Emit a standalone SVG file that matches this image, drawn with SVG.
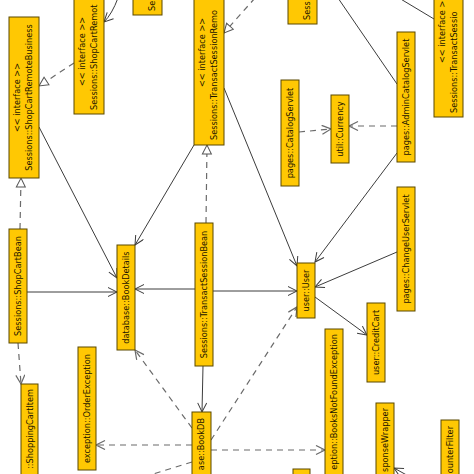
<svg xmlns="http://www.w3.org/2000/svg" width="474" height="474" viewBox="0 0 474 474">
<style>
.box{fill:#FFC803;stroke:#5a4800;stroke-width:1}
.t{font-family:"DejaVu Sans",Verdana,sans-serif;font-size:8.2px;fill:#1a1400}
.s{fill:none;stroke:#3c3c3c;stroke-width:1}
.d{fill:none;stroke:#6a6a6a;stroke-width:1.2;stroke-dasharray:6,5}
</style>
<defs>
<marker id="ao" markerUnits="userSpaceOnUse" markerWidth="12" markerHeight="12" refX="10" refY="5" orient="auto">
<path d="M1,0.5 L10,5 L1,9.5" fill="none" stroke="#3c3c3c" stroke-width="1"/>
</marker>
<marker id="ad" markerUnits="userSpaceOnUse" markerWidth="12" markerHeight="12" refX="10" refY="5" orient="auto">
<path d="M1,0.5 L10,5 L1,9.5" fill="none" stroke="#6a6a6a" stroke-width="1.2"/>
</marker>
<marker id="tri" markerUnits="userSpaceOnUse" markerWidth="14" markerHeight="14" refX="10" refY="5.5" orient="auto">
<path d="M1,1 L10,5.5 L1,10 Z" fill="#fff" stroke="#555" stroke-width="1"/>
</marker>
</defs>
<rect width="474" height="474" fill="#fff"/>
<g id="connectors">
<path class="s" d="M118,-2 Q112,14 104,22" marker-end="url(#ao)"/>
<path class="d" d="M74,63 L39,86" marker-end="url(#tri)"/>
<path class="s" d="M39,127 L117,278" marker-end="url(#ao)"/>
<path class="d" d="M20,229 L21,178" marker-end="url(#tri)"/>
<path class="s" d="M27,292 L117,292" marker-end="url(#ao)"/>
<path class="d" d="M18,343 L21,384" marker-end="url(#ad)"/>
<path class="s" d="M194,145 L135,245" marker-end="url(#ao)"/>
<path class="s" d="M224,88 L297,266" marker-end="url(#ao)"/>
<path class="d" d="M206,223 L207,145" marker-end="url(#tri)"/>
<path class="d" d="M255,-2 L224,33" marker-end="url(#tri)"/>
<path class="s" d="M195,289 L135,289" marker-end="url(#ao)"/>
<path class="s" d="M213,291 L297,291" marker-end="url(#ao)"/>
<path class="d" d="M192,428 L135,350" marker-end="url(#ad)"/>
<path class="s" d="M203,366 L202,412" marker-end="url(#ao)"/>
<path class="d" d="M211,440 L297,307" marker-end="url(#ad)"/>
<path class="d" d="M192,445 L96,445" marker-end="url(#ad)"/>
<path class="d" d="M211,450 L325,450" marker-end="url(#ad)"/>
<path class="d" d="M192,462 L140,478"/>
<path class="d" d="M397,126 L349,126" marker-end="url(#ad)"/>
<path class="d" d="M299,132 L331,129" marker-end="url(#ad)"/>
<path class="s" d="M397,153 L315,262" marker-end="url(#ao)"/>
<path class="s" d="M338,-2 L397,84"/>
<path class="s" d="M399,-2 L434,19"/>
<path class="s" d="M397,252 L315,287" marker-end="url(#ao)"/>
<path class="s" d="M315,297 L367,335" marker-end="url(#ao)"/>
<path class="s" d="M412,478 L394,468" marker-end="url(#ao)"/>
</g>
<g id="ShopCartRemoteBusiness">
<rect class="box" x="9" y="17" width="30" height="161"/>
<text class="t" text-anchor="middle" transform="translate(19.5,97.5) rotate(-90)">&lt;&lt; interface &gt;&gt;</text>
<text class="t" text-anchor="middle" transform="translate(32,97.5) rotate(-90)">Sessions::ShopCartRemoteBusiness</text>
</g>
<g id="ShopCartRemote">
<rect class="box" x="74" y="-20" width="30" height="134"/>
<text class="t" transform="translate(84.5,86) rotate(-90)">&lt;&lt; interface &gt;&gt;</text>
<text class="t" transform="translate(97,110) rotate(-90)">Sessions::ShopCartRemot</text>
</g>
<g id="TopNode1">
<rect class="box" x="133" y="-60" width="29" height="75"/>
<text class="t" transform="translate(154.5,11) rotate(-90)">Se</text>
</g>
<g id="TransactSessionRemoteBusiness">
<rect class="box" x="194" y="-50" width="30" height="195"/>
<text class="t" transform="translate(204.5,87) rotate(-90)">&lt;&lt; interface &gt;&gt;</text>
<text class="t" transform="translate(217,140) rotate(-90)">Sessions::TransactSessionRemo</text>
</g>
<g id="TopNode2">
<rect class="box" x="288" y="-60" width="29" height="84"/>
<text class="t" transform="translate(310,20) rotate(-90)">Sess</text>
</g>
<g id="CatalogServlet">
<rect class="box" x="281" y="80" width="18" height="106"/>
<text class="t" text-anchor="middle" transform="translate(293,133) rotate(-90)">pages::CatalogServlet</text>
</g>
<g id="Currency">
<rect class="box" x="331" y="95" width="18" height="68"/>
<text class="t" text-anchor="middle" transform="translate(343,129) rotate(-90)">util::Currency</text>
</g>
<g id="AdminCatalogServlet">
<rect class="box" x="397" y="32" width="18" height="130"/>
<text class="t" text-anchor="middle" transform="translate(409,97) rotate(-90)">pages::AdminCatalogServlet</text>
</g>
<g id="TransactSessionInterface">
<rect class="box" x="434" y="-80" width="29" height="197"/>
<text class="t" transform="translate(444.5,63) rotate(-90)">&lt;&lt; interface &gt;</text>
<text class="t" transform="translate(457,113) rotate(-90)">Sessions::TransactSessio</text>
</g>
<g id="ShopCartBean">
<rect class="box" x="9" y="229" width="18" height="114"/>
<text class="t" text-anchor="middle" transform="translate(21,286) rotate(-90)">Sessions::ShopCartBean</text>
</g>
<g id="BookDetails">
<rect class="box" x="117" y="245" width="18" height="105"/>
<text class="t" text-anchor="middle" transform="translate(129,297.5) rotate(-90)">database::BookDetails</text>
</g>
<g id="TransactSessionBean">
<rect class="box" x="195" y="223" width="18" height="143"/>
<text class="t" text-anchor="middle" transform="translate(207,294.5) rotate(-90)">Sessions::TransactSessionBean</text>
</g>
<g id="User">
<rect class="box" x="297" y="263" width="18" height="55"/>
<text class="t" text-anchor="middle" transform="translate(309,290.5) rotate(-90)">user::User</text>
</g>
<g id="ChangeUserServlet">
<rect class="box" x="397" y="187" width="18" height="124"/>
<text class="t" text-anchor="middle" transform="translate(409,249) rotate(-90)">pages::ChangeUserServlet</text>
</g>
<g id="CreditCart">
<rect class="box" x="367" y="303" width="18" height="79"/>
<text class="t" text-anchor="middle" transform="translate(379,342.5) rotate(-90)">user::CreditCart</text>
</g>
<g id="BooksNotFoundException">
<rect class="box" x="325" y="329" width="18" height="170"/>
<text class="t" text-anchor="end" transform="translate(337,334) rotate(-90)">eption::BooksNotFoundException</text>
</g>
<g id="ShoppingCartItem">
<rect class="box" x="21" y="384" width="17" height="130"/>
<text class="t" text-anchor="end" transform="translate(33,389) rotate(-90)">::ShoppingCartItem</text>
</g>
<g id="OrderException">
<rect class="box" x="78" y="347" width="18" height="123"/>
<text class="t" text-anchor="middle" transform="translate(90,408.5) rotate(-90)">exception::OrderException</text>
</g>
<g id="BookDB">
<rect class="box" x="192" y="412" width="19" height="90"/>
<text class="t" text-anchor="end" transform="translate(204,418) rotate(-90)">ase::BookDB</text>
</g>
<g id="ResponseWrapper">
<rect class="box" x="376" y="403" width="18" height="140"/>
<text class="t" text-anchor="end" transform="translate(388,408) rotate(-90)">sponseWrapper</text>
</g>
<g id="CounterFilter">
<rect class="box" x="441" y="420" width="18" height="120"/>
<text class="t" text-anchor="end" transform="translate(453,426) rotate(-90)">ounterFilter</text>
</g>
<g id="BottomNode">
<rect class="box" x="293" y="469" width="17" height="30"/>
</g>
</svg>
